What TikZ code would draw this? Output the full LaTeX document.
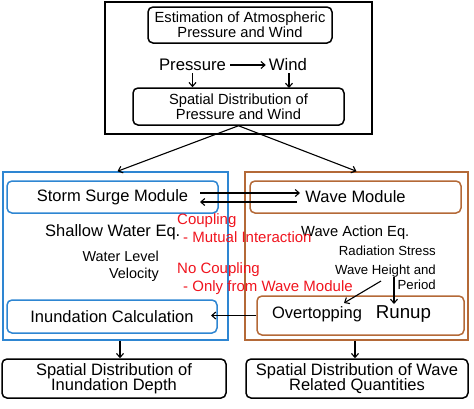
\documentclass[tikz,border=0pt]{standalone}
\usepackage{fontspec}
\setmainfont{Liberation Sans}
\usetikzlibrary{arrows.meta}
\definecolor{bblue}{RGB}{46,134,210}
\definecolor{bbrown}{RGB}{180,105,55}
\definecolor{rred}{RGB}{240,20,30}
\tikzset{
  box/.style={draw, rounded corners=5pt, line width=1.5pt, inner sep=0pt, align=center},
  frame/.style={draw, line width=1.5pt, inner sep=0pt},
  arr/.style={-{Straight Barb[length=4pt,width=7pt,line width=1.1pt]}, line width=1.1pt},
  txt/.style={inner sep=0pt},
  fa/.style={font=\fontsize{16.5}{15.5}\selectfont},
  fb/.style={font=\fontsize{14.7}{15}\selectfont},
  fc/.style={font=\fontsize{13.2}{15}\selectfont},
  redtxt/.style={txt, text=rred, align=left, font=\fontsize{15}{18}\selectfont},
}
\begin{document}
\begin{tikzpicture}[x=1pt,y=-1pt]
\useasboundingbox (0,0) rectangle (474,408);
% top frame
\node[frame, minimum width=267pt, minimum height=132pt] (topframe) at (238.5,68) {};
\node[box, fb, minimum width=184pt, minimum height=36pt] (est) at (240,25) {Estimation of Atmospheric\\Pressure and Wind};
\node[txt, font=\fontsize{16.7}{19}\selectfont] (pres) at (192.5,65) {Pressure};
\node[txt, font=\fontsize{16.7}{19}\selectfont] (wind) at (288,65) {Wind};
\node[box, fb, minimum width=211pt, minimum height=37pt] (spat) at (238.5,106.5) {Spatial Distribution of\\Pressure and Wind};
\draw[arr, shorten >=3pt] (pres.east) ++(4,0) coordinate (pe) (pe) -- (pe -| wind.west);
\draw[arr] ([yshift=-2pt]pres.south) -- (pres.south |- spat.north);
\draw[arr] ([yshift=-2pt]wind.south -| 289,0) -- (289,88);
% frames
\node[frame, draw=bblue, minimum width=225pt, minimum height=168pt] (blueframe) at (115.5,256) {};
\node[frame, draw=bbrown, minimum width=223pt, minimum height=168pt] (brownframe) at (356.5,256) {};
\draw[arr] (spat.south) -- ([xshift=2pt]blueframe.north);
\draw[arr] (spat.south) -- (brownframe.north);
% inner boxes
\node[box, fa, draw=bblue, minimum width=211pt, minimum height=32pt] (storm) at (112.5,197) {Storm Surge Module};
\node[box, fa, draw=bbrown, minimum width=211pt, minimum height=32pt] (wave) at (355.5,197) {Wave Module};
\node[box, fa, draw=bblue, minimum width=210pt, minimum height=33pt] (inund) at (112,316.5) {Inundation Calculation};
\node[box, draw=bbrown, minimum width=207pt, minimum height=39pt] (ovt) at (360.5,315.5) {};
\node[txt, fa] (ovtxt) at (317,314) {Overtopping};
\node[txt, font=\fontsize{18.7}{20}\selectfont] (runup) at (403.5,314) {Runup};
% texts in blue frame
\node[txt, fa, anchor=west] (swe) at (45,232) {Shallow Water Eq.};
\node[txt, font=\fontsize{14.4}{17}\selectfont, align=right, anchor=east] (wl) at (159,266.5) {Water Level\\Velocity};
% texts in brown frame
\node[txt, fb, anchor=west] (wae) at (301,233) {Wave Action Eq.};
\node[txt, fc, anchor=east] (rad) at (436,251) {Radiation Stress};
\node[txt, fc, align=right, anchor=east] (wh) at (436,277.5) {Wave Height and\\Period};
% red texts
\node[redtxt, anchor=west] (coup) at (177,228) {Coupling\\\hspace*{6pt}- Mutual Interaction};
\node[redtxt, anchor=west] (nocoup) at (177,279) {No Coupling\\\hspace*{6pt}- Only from Wave Module};
% coupling arrows
\coordinate (c1) at (200,193);
\coordinate (c2) at (300,193);
\coordinate (c3) at (297,202);
\coordinate (c4) at (200,202);
\draw[arr] (c1) -- (c2);
\draw[arr] (c3) -- (c4);
\coordinate (itip) at (211,315.5);
\draw[arr] (ovt.west) -- (itip);
% wave height arrows
\coordinate (w1) at (381,281);
\coordinate (w2) at (344,303);
\coordinate (w3) at (394,277);
\coordinate (w4) at (394,304);
\draw[arr] (w1) -- (w2);
\draw[arr] (w3) -- (w4);
% bottom boxes
\node[box, fa, minimum width=224pt, minimum height=39pt] (bl) at (114,378.5) {Spatial Distribution of\\Inundation Depth};
\node[box, fa, minimum width=222pt, minimum height=39pt] (br) at (357,378.5) {Spatial Distribution of Wave\\Related Quantities};
\draw[arr] ([xshift=4.5pt]blueframe.south) -- ([xshift=4.5pt]blueframe.south |- bl.north);
\draw[arr] ([xshift=-1.5pt]brownframe.south) -- ([xshift=-1.5pt]brownframe.south |- br.north);
\end{tikzpicture}
\end{document}
